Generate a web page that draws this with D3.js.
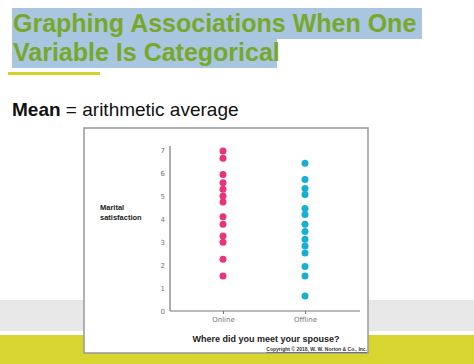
<!DOCTYPE html>
<html>
<head>
<meta charset="utf-8">
<script src="https://cdn.jsdelivr.net/npm/d3@7"></script>
<style>
  html, body { margin: 0; padding: 0; background: #fff; }
  svg { display: block; font-family: "Liberation Sans", Arial, sans-serif; }
</style>
</head>
<body>
<div id="chart"></div>
<script>
// data
const categories = ["Online", "Offline"];
const onlineValues = [6.96, 6.64, 5.94, 5.58, 5.29, 5.0, 4.74, 4.1, 3.77, 3.26, 2.99, 2.25, 1.52];
const offlineValues = [6.42, 5.72, 5.33, 5.07, 4.46, 4.2, 3.77, 3.46, 3.12, 2.83, 2.52, 1.93, 1.52, 0.65];
const yTicks = [0, 1, 2, 3, 4, 5, 6, 7];
const seriesColors = ["#e8347a", "#18afd2"];

const width = 474, height = 364;

const svg = d3.select("#chart")
  .append("svg")
  .attr("width", width)
  .attr("height", height);

// slide background bands
svg.append("rect").attr("x", 0).attr("y", 300).attr("width", width).attr("height", 31).style("fill", "#e8e8e8");
svg.append("rect").attr("x", 0).attr("y", 335).attr("width", width).attr("height", 29).style("fill", "#d9d530");

// title with highlight
svg.append("rect").attr("x", 12).attr("y", 8).attr("width", 410).attr("height", 31).style("fill", "#a8c6df");
svg.append("rect").attr("x", 12).attr("y", 38).attr("width", 265).attr("height", 30).style("fill", "#a8c6df");
svg.append("rect").attr("x", 8).attr("y", 72).attr("width", 92).attr("height", 3).style("fill", "#d4d32a");

svg.append("text").attr("x", 13).attr("y", 32)
  .style("font-size", "25px").style("font-weight", "bold").style("fill", "#78a82a")
  .text("Graphing Associations When One");
svg.append("text").attr("x", 13).attr("y", 61)
  .style("font-size", "25px").style("font-weight", "bold").style("fill", "#78a82a")
  .text("Variable Is Categorical");

const sub = svg.append("text").attr("x", 12).attr("y", 116)
  .style("font-size", "19px").style("fill", "#111");
sub.append("tspan").style("font-weight", "bold").text("Mean");
sub.append("tspan").text(" = arithmetic average");

// chart frame
svg.append("rect").attr("x", 84).attr("y", 128).attr("width", 284).attr("height", 225)
  .style("fill", "#fff").style("stroke", "#999").style("stroke-width", 1.5);

const y = d3.scaleLinear().domain([0, 7]).range([311, 150]);
const x = d3.scalePoint().domain(categories).range([223, 305]);

// y axis: labels only, with a plain line
const yAxis = svg.append("g")
  .attr("transform", "translate(170,0)")
  .call(d3.axisLeft(y).tickValues(yTicks).tickFormat(d3.format("d")).tickSize(0).tickPadding(5));
yAxis.select(".domain").remove();
yAxis.selectAll("text").style("font-size", "7px").style("fill", "#777").style("font-family", "'DejaVu Sans', sans-serif");

svg.append("line").attr("x1", 170).attr("x2", 170).attr("y1", 146).attr("y2", y(0))
  .style("stroke", "#777").style("stroke-width", 1.2);

const xAxis = svg.append("g")
  .attr("transform", `translate(0,${y(0)})`)
  .call(d3.axisBottom(x).tickSize(3).tickPadding(3));
xAxis.select(".domain").remove();
xAxis.selectAll("line").style("stroke", "#777");
xAxis.selectAll("text").style("font-size", "7px").style("fill", "#777").style("font-family", "'DejaVu Sans', sans-serif");

svg.append("line").attr("x1", 170).attr("x2", 360).attr("y1", y(0)).attr("y2", y(0))
  .style("stroke", "#777").style("stroke-width", 1.2);

// axis titles
const yTitle = svg.append("text").attr("x", 100).attr("y", 210)
  .style("font-size", "7.5px").style("font-weight", "bold").style("fill", "#222");
yTitle.append("tspan").attr("x", 100).text("Marital");
yTitle.append("tspan").attr("x", 100).attr("dy", 9.5).text("satisfaction");

svg.append("text").attr("x", 266).attr("y", 342).attr("text-anchor", "middle")
  .style("font-size", "9px").style("font-weight", "bold").style("fill", "#222")
  .text("Where did you meet your spouse?");

svg.append("text").attr("x", 367).attr("y", 351).attr("text-anchor", "end")
  .style("font-size", "5px").style("font-weight", "bold").style("fill", "#333")
  .style("text-decoration", "underline")
  .text("Copyright © 2018, W. W. Norton & Co., Inc.");

// dots
const points = [];
onlineValues.forEach(v => points.push({ cat: "Online", value: v }));
offlineValues.forEach(v => points.push({ cat: "Offline", value: v }));

svg.append("g")
  .selectAll("circle")
  .data(points)
  .enter()
  .append("circle")
  .attr("cx", d => x(d.cat))
  .attr("cy", d => y(d.value))
  .attr("r", 3.5)
  .style("fill", d => seriesColors[categories.indexOf(d.cat)]);
</script>
</body>
</html>
